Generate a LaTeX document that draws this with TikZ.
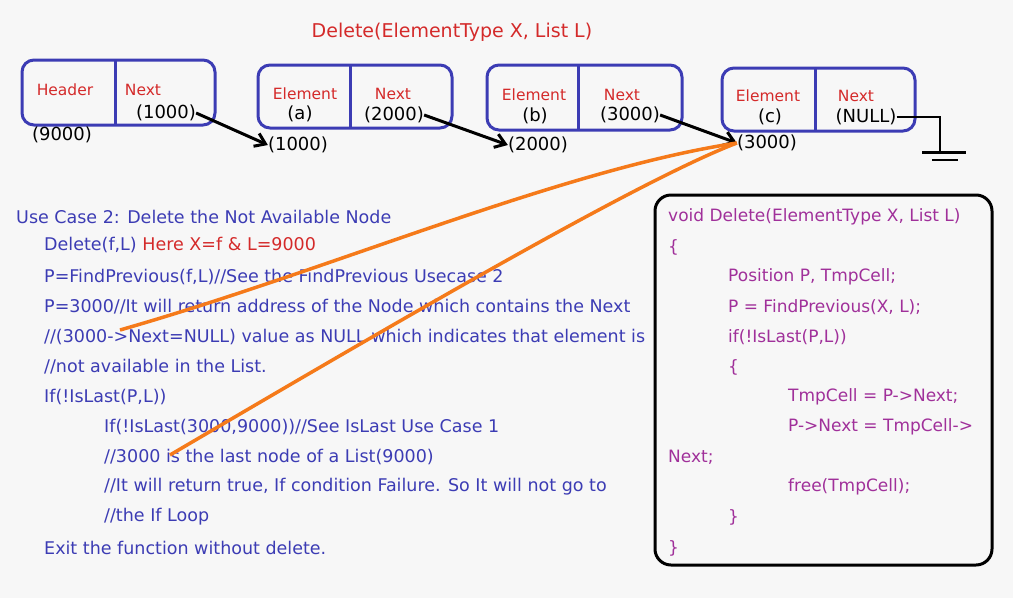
\documentclass[tikz,border=0pt]{standalone}
\usepackage{fontspec}
\setmainfont{DejaVu Sans}
\usetikzlibrary{arrows.meta}
\definecolor{bl}{HTML}{3C3CB4}
\definecolor{rd}{HTML}{D42A2A}
\definecolor{mg}{HTML}{A0309A}
\definecolor{og}{HTML}{F57A1A}
\begin{document}
\begin{tikzpicture}[x=1pt,y=-1pt,
 cell/.style={draw=bl,line width=3pt,rounded corners=12pt},
 lab/.style={text=rd,font=\fontsize{15.5}{17}\selectfont,inner sep=0},
 blk/.style={text=black,font=\fontsize{18}{20}\selectfont,inner sep=0},
 lt/.style={anchor=west,text=bl,font=\fontsize{17.5}{20}\selectfont,inner sep=0},
 ct/.style={anchor=west,text=mg,font=\fontsize{17}{20}\selectfont,inner sep=0},
 arr/.style={line width=3pt,-{Straight Barb[length=10pt,width=14pt]}},
 org/.style={og,line width=3.5pt}]
\useasboundingbox (0,0) rectangle (1013,598);
\fill[white!97!black] (0,0) rectangle (1013,598);
\node[text=rd,font=\fontsize{19}{22}\selectfont] (title) at (452,32) {Delete(ElementType X, List L)};
% boxes
\draw[cell] (22,60) rectangle (215,125); \draw[bl,line width=3pt] (115,60)--(115,125);
\draw[cell] (258,65) rectangle (452,128); \draw[bl,line width=3pt] (350,65)--(350,128);
\draw[cell] (487,65) rectangle (682,130); \draw[bl,line width=3pt] (578,65)--(578,130);
\draw[cell] (722,68) rectangle (915,131); \draw[bl,line width=3pt] (815,68)--(815,131);
\node[lab] at (65,90) {Header}; \node[lab] at (143,90) {Next};
\node[lab] at (305,94) {Element}; \node[lab] at (393,94) {Next};
\node[lab] at (534,95) {Element}; \node[lab] at (622,95) {Next};
\node[lab] at (768,96) {Element}; \node[lab] at (856,96) {Next};
\node[blk] (n1) at (166,113) {(1000)};
\node[blk] at (300,114) {(a)}; \node[blk] (n2) at (394,115) {(2000)};
\node[blk] at (535,116) {(b)}; \node[blk] (n3) at (630,115) {(3000)};
\node[blk] at (770,117) {(c)}; \node[blk] (n4) at (866,117) {(NULL)};
\node[blk] at (62,135) {(9000)};
\node[blk] (a1) at (298,145) {(1000)};
\node[blk] (a2) at (538,145) {(2000)};
\node[blk] (a3) at (767,143) {(3000)};
\draw[arr] (n1.east) -- (a1.west);
\draw[arr] (n2.east) -- (a2.west);
\draw[arr] (n3.east) -- (a3.west);
% ground
\draw[line width=2.5pt] (n4.east) -- (940,117) -- (940,152);
\draw[line width=3pt] (922,152)--(966,152);
\draw[line width=2.5pt] (932,160)--(958,160);
% left text
\node[lt] at (16,217) {Use Case 2: Delete the Not Available Node};
\node[lt] at (44,245) {Delete(f,L) \textcolor{rd}{Here X=f \& L=9000}};
\node[lt] at (44,277) {P=FindPrevious(f,L)//See the FindPrevious Usecase 2};
\node[lt] at (44,307) {P=3000//It will return address of the Node which contains the Next};
\node[lt] at (44,337) {//(3000->Next=NULL) value as NULL which indicates that element is};
\node[lt] at (44,367) {//not available in the List.};
\node[lt] at (44,397) {If(!IsLast(P,L))};
\node[lt] at (104,427) {If(!IsLast(3000,9000))//See IsLast Use Case 1};
\node[lt] at (104,457) {//3000 is the last node of a List(9000)};
\node[lt] at (104,487) {//It will return true, If condition Failure. So It will not go to};
\node[lt] at (104,517) {//the If Loop};
\node[lt] at (44,548) {Exit the function without delete.};
% code box
\draw[line width=3pt,rounded corners=16pt,fill=white!97!black] (655,195) rectangle (992,565);
\node[ct] at (668,217) {void Delete(ElementType X, List L)};
\node[ct] at (668,247) {\{};
\node[ct] at (728,277) {Position P, TmpCell;};
\node[ct] at (728,307) {P = FindPrevious(X, L);};
\node[ct] at (728,337) {if(!IsLast(P,L))};
\node[ct] at (728,367) {\{};
\node[ct] at (788,397) {TmpCell = P->Next;};
\node[ct] at (788,427) {P->Next = TmpCell->};
\node[ct] at (668,457) {Next;};
\node[ct] at (788,487) {free(TmpCell);};
\node[ct] at (728,517) {\}};
\node[ct] at (668,548) {\}};
% orange
\coordinate (o1) at (120,330); \coordinate (o2) at (170,455);
\draw[org] (o1) .. controls (330,270) and (560,170) .. (a3.west);
\draw[org] (o2) .. controls (400,320) and (640,180) .. (a3.west);
\end{tikzpicture}
\end{document}
